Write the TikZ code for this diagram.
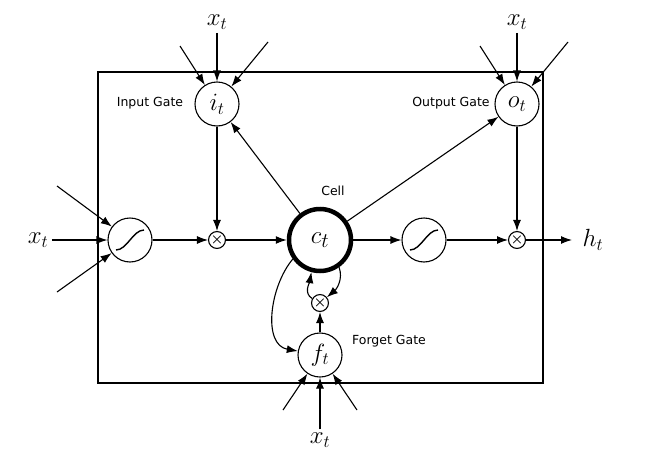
\documentclass[tikz,border=0pt]{standalone}
\usepackage{fontspec}
\newfontfamily\lab{DejaVu Sans}
\usetikzlibrary{arrows.meta}
\begin{document}
\begin{tikzpicture}[x=1pt,y=-1pt,
  gate/.style={circle,draw,line width=1.1pt,minimum size=44pt,inner sep=0pt,font=\fontsize{24}{26}\selectfont},
  mul/.style={circle,draw,line width=1.1pt,minimum size=15pt,inner sep=0pt,font=\fontsize{15}{15}\selectfont\boldmath},
  cell/.style={circle,draw,line width=4.5pt,minimum size=62pt,inner sep=0pt,font=\fontsize{32}{34}\selectfont},
  lbl/.style={font=\lab\fontsize{12.5}{14}\selectfont},
  xin/.style={font=\fontsize{26}{28}\selectfont},
  ar/.style={-{Latex[length=11pt,width=8pt]},line width=1.1pt}]
\useasboundingbox (0,0) rectangle (645,463);
\draw[line width=1.1pt] (98,72) rectangle (543,383);
\node[gate] (s1) at (130,240) {};
\draw[line width=1.4pt] (s1.center)+(-14,10) .. controls +(11,0) and +(-11,0) .. +(14,-10);
\node[gate] (s2) at (424,240) {};
\draw[line width=1.4pt] (s2.center)+(-14,10) .. controls +(11,0) and +(-11,0) .. +(14,-10);
\node[mul] (m1) at (217,240) {$\times$};
\node[mul] (m2) at (517,240) {$\times$};
\node[mul] (m3) at (320,303) {$\times$};
\node[cell] (c) at (320,240) {$c_t$};
\node[gate] (i) at (217,104) {$i_t$};
\node[gate] (o) at (517,104) {$o_t$};
\node[gate] (f) at (320,355) {$f_t$};
\node[lbl] (li) at (150,103) {Input Gate};
\node[lbl] (lo) at (451,103) {Output Gate};
\node[lbl] (lc) at (333,191) {Cell};
\node[lbl] (lf) at (389,341) {Forget Gate};
\coordinate (hend) at (572,240);
\node[xin] (h) at (593,240) {$h_t$};
% inputs
\node[xin] (xi) at (217,22) {$x_t$};
\coordinate (ia) at (180,46); \coordinate (ib) at (268,42);
\draw[ar] (xi) -- (i); \draw[ar] (ia) -- (i); \draw[ar] (ib) -- (i);
\node[xin] (xo) at (517,22) {$x_t$};
\coordinate (oa) at (480,46); \coordinate (ob) at (568,42);
\draw[ar] (xo) -- (o); \draw[ar] (oa) -- (o); \draw[ar] (ob) -- (o);
\node[xin] (xf) at (320,440) {$x_t$};
\coordinate (fa) at (283,410); \coordinate (fb) at (357,410);
\draw[ar] (xf) -- (f); \draw[ar] (fa) -- (f); \draw[ar] (fb) -- (f);
\node[xin] (xs) at (38,240) {$x_t$};
\coordinate (sa) at (57,186); \coordinate (sb) at (57,292);
\draw[ar] (xs) -- (s1); \draw[ar] (sa) -- (s1); \draw[ar] (sb) -- (s1);
% flows
\draw[ar] (s1) -- (m1);
\draw[ar] (i) -- (m1);
\draw[ar] (m1) -- (c);
\draw[ar] (c) -- (i);
\draw[ar] (c) -- (o);
\draw[ar] (c) -- (s2);
\draw[ar] (s2) -- (m2);
\draw[ar] (o) -- (m2);
\draw[ar] (m2) -- (hend);
\draw[ar] (f) -- (m3);
\draw[ar] (m3) to[out=150,in=260] (c.255);
\draw[ar] (c.305) to[out=290,in=40] (m3);
\draw[ar] (c.215) to[out=230,in=170] (f);
\end{tikzpicture}
\end{document}
